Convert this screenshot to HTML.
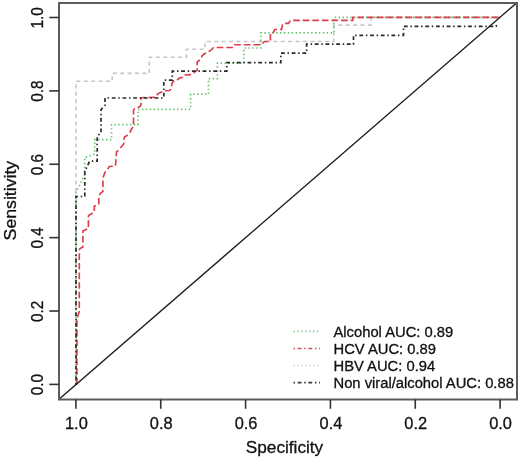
<!DOCTYPE html>
<html><head><meta charset="utf-8"><style>
html,body{margin:0;padding:0;background:#fff;}
svg{display:block;}
</style></head><body>
<svg width="520" height="459" viewBox="0 0 520 459">
<rect width="520" height="459" fill="#fff"/>
<polyline points="76,384.4 76,81.3 112.2,81.3 112.2,73.4 149.3,73.4 149.3,57.3 186.5,57.3 186.5,49.2 205,49.2 205,41.5 333.8,41.5 333.8,25.1 371,25.1 371,17.4 500,17.4" fill="none" stroke="#c6c6c6" stroke-width="1.6" stroke-dasharray="4 3.4" stroke-linecap="butt" stroke-linejoin="miter"/>
<polyline points="76,384.4 76,193 78,188 80,185 82,180 84.7,175 84.7,157.5 94.7,154 94.7,139.7 111.5,139.7 111.5,124.6 137.9,124.6 137.9,109.3 190.6,109.3 190.6,94.2 208.5,94.2 208.5,78.6 217.4,78.6 217.4,63.2 243.8,63.2 243.8,48 260.8,48 260.8,32.8 333.8,32.8 333.8,17.4 500,17.4" fill="none" stroke="#66c46c" stroke-width="1.7" stroke-dasharray="1.4 2.5" stroke-linecap="butt" stroke-linejoin="miter"/>
<polyline points="76.9,384.4 76.9,320 78,315.5 79.3,311.5 79.3,250 80,248.6 82.9,247 82.9,231 85.8,229.6 88.4,228.5 88.4,216 89,215.3 92.3,213.3 94.3,212 94.3,206 97.5,205.5 98.8,204 98.8,196 100.2,193.6 102.9,191.4 102.9,178 104,175 105.1,172.3 107.3,169.6 109.4,166.5 115.5,166 116.5,152 118.1,150.5 121,147.3 123.7,144 123.7,140 124.5,137 127,135.5 129.6,133 131.6,129 133.5,126.4 133.5,110 135.5,108 139.4,107 141,105 141,97.7 156,97.2 157.5,94 160,92.8 164.5,90.8 169.5,90.5 171.7,88 171.7,84 173.5,81 176.5,80.5 179.5,78 182,77.5 183.5,75 191.5,74.6 194,72.7 197.2,70 197.2,62 201,59 202,56 204.4,53.8 207.3,52.3 210.7,50.4 212.6,48.5 213.5,47.5 233,47.5 234.5,44.7 261,44.7 264.5,41.5 270.4,41.5 270.4,33 273.5,32.3 274.5,29.5 281.5,29.5 282.5,24.5 284,23.3 288.5,23.3 290.5,20.3 352.8,20.3 352.8,17.4 499,17.4" fill="none" stroke="#dc3c4c" stroke-width="1.65" stroke-dasharray="6.6 3" stroke-linecap="butt" stroke-linejoin="miter"/>
<polyline points="76,384.4 76,196.5 84.8,196.5 84.8,171 87,167 89.5,161.2 97.2,161.2 97.2,136 99,134.5 101,133.5 101,109.5 103,107.5 105,105.5 105,98 163.8,98 163.8,80.2 172.3,80.2 172.3,71.1 226.8,71.1 226.8,62.6 280.8,62.6 280.8,53.2 306.6,53.2 306.6,44.2 353.5,44.2 353.5,35.3 403.5,35.3 403.5,26.3 496,26.3 497.5,23.5" fill="none" stroke="#2a2a2a" stroke-width="1.7" stroke-dasharray="1.5 2.7 3.8 2.7" stroke-linecap="butt" stroke-linejoin="miter"/>
<line x1="59" y1="399.2" x2="517" y2="2.6" stroke="#1e1e1e" stroke-width="1.45"/>
<path d="M59,2.9 H517 V399.4 H59 Z" fill="none" stroke="#5c5c5c" stroke-width="2"/>
<line x1="49.3" y1="384.40" x2="59" y2="384.40" stroke="#333" stroke-width="1.6"/>
<line x1="500.10" y1="399.4" x2="500.10" y2="408.8" stroke="#333" stroke-width="1.6"/>
<line x1="49.3" y1="311.02" x2="59" y2="311.02" stroke="#333" stroke-width="1.6"/>
<line x1="415.26" y1="399.4" x2="415.26" y2="408.8" stroke="#333" stroke-width="1.6"/>
<line x1="49.3" y1="237.64" x2="59" y2="237.64" stroke="#333" stroke-width="1.6"/>
<line x1="330.42" y1="399.4" x2="330.42" y2="408.8" stroke="#333" stroke-width="1.6"/>
<line x1="49.3" y1="164.26" x2="59" y2="164.26" stroke="#333" stroke-width="1.6"/>
<line x1="245.58" y1="399.4" x2="245.58" y2="408.8" stroke="#333" stroke-width="1.6"/>
<line x1="49.3" y1="90.88" x2="59" y2="90.88" stroke="#333" stroke-width="1.6"/>
<line x1="160.74" y1="399.4" x2="160.74" y2="408.8" stroke="#333" stroke-width="1.6"/>
<line x1="49.3" y1="17.50" x2="59" y2="17.50" stroke="#333" stroke-width="1.6"/>
<line x1="75.90" y1="399.4" x2="75.90" y2="408.8" stroke="#333" stroke-width="1.6"/>
<text x="500.60" y="428.7" font-family="'Liberation Sans', Arial, Helvetica, sans-serif" stroke="#111" stroke-width="0.3" font-size="16.4" text-anchor="middle" fill="#111">0.0</text>
<text transform="translate(42.6,384.70) rotate(-90) scale(1,1.12)" x="0" y="0" font-family="'Liberation Sans', Arial, Helvetica, sans-serif" stroke="#111" stroke-width="0.3" font-size="15.3" text-anchor="middle" fill="#111">0.0</text>
<text x="415.76" y="428.7" font-family="'Liberation Sans', Arial, Helvetica, sans-serif" stroke="#111" stroke-width="0.3" font-size="16.4" text-anchor="middle" fill="#111">0.2</text>
<text transform="translate(42.6,311.32) rotate(-90) scale(1,1.12)" x="0" y="0" font-family="'Liberation Sans', Arial, Helvetica, sans-serif" stroke="#111" stroke-width="0.3" font-size="15.3" text-anchor="middle" fill="#111">0.2</text>
<text x="330.92" y="428.7" font-family="'Liberation Sans', Arial, Helvetica, sans-serif" stroke="#111" stroke-width="0.3" font-size="16.4" text-anchor="middle" fill="#111">0.4</text>
<text transform="translate(42.6,237.94) rotate(-90) scale(1,1.12)" x="0" y="0" font-family="'Liberation Sans', Arial, Helvetica, sans-serif" stroke="#111" stroke-width="0.3" font-size="15.3" text-anchor="middle" fill="#111">0.4</text>
<text x="246.08" y="428.7" font-family="'Liberation Sans', Arial, Helvetica, sans-serif" stroke="#111" stroke-width="0.3" font-size="16.4" text-anchor="middle" fill="#111">0.6</text>
<text transform="translate(42.6,164.56) rotate(-90) scale(1,1.12)" x="0" y="0" font-family="'Liberation Sans', Arial, Helvetica, sans-serif" stroke="#111" stroke-width="0.3" font-size="15.3" text-anchor="middle" fill="#111">0.6</text>
<text x="161.24" y="428.7" font-family="'Liberation Sans', Arial, Helvetica, sans-serif" stroke="#111" stroke-width="0.3" font-size="16.4" text-anchor="middle" fill="#111">0.8</text>
<text transform="translate(42.6,91.18) rotate(-90) scale(1,1.12)" x="0" y="0" font-family="'Liberation Sans', Arial, Helvetica, sans-serif" stroke="#111" stroke-width="0.3" font-size="15.3" text-anchor="middle" fill="#111">0.8</text>
<text x="76.40" y="428.7" font-family="'Liberation Sans', Arial, Helvetica, sans-serif" stroke="#111" stroke-width="0.3" font-size="16.4" text-anchor="middle" fill="#111">1.0</text>
<text transform="translate(42.6,17.80) rotate(-90) scale(1,1.12)" x="0" y="0" font-family="'Liberation Sans', Arial, Helvetica, sans-serif" stroke="#111" stroke-width="0.3" font-size="15.3" text-anchor="middle" fill="#111">1.0</text>
<text x="284.5" y="453.3" font-family="'Liberation Sans', Arial, Helvetica, sans-serif" stroke="#111" stroke-width="0.3" font-size="17.2" text-anchor="middle" fill="#111">Specificity</text>
<text transform="translate(15.6,200.6) rotate(-90) scale(1.035,1)" x="0" y="0" font-family="'Liberation Sans', Arial, Helvetica, sans-serif" stroke="#111" stroke-width="0.3" font-size="17.1" text-anchor="middle" fill="#111">Sensitivity</text>
<line x1="293.5" y1="331.3" x2="320" y2="331.3" stroke="#88c890" stroke-width="1.7" stroke-dasharray="1.4 2.5"/>
<text x="333.5" y="336.6" font-family="'Liberation Sans', Arial, Helvetica, sans-serif" stroke="#111" stroke-width="0.3" font-size="14.75" fill="#111">Alcohol AUC: 0.89</text>
<line x1="293.5" y1="348.5" x2="320" y2="348.5" stroke="#d65060" stroke-width="1.6" stroke-dasharray="1.5 2.7 3.8 2.7"/>
<text x="333.5" y="353.6" font-family="'Liberation Sans', Arial, Helvetica, sans-serif" stroke="#111" stroke-width="0.3" font-size="14.75" fill="#111">HCV AUC: 0.89</text>
<line x1="293.5" y1="365.5" x2="320" y2="365.5" stroke="#cdcdcd" stroke-width="1.7" stroke-dasharray="1.4 2.5"/>
<text x="333.5" y="370.7" font-family="'Liberation Sans', Arial, Helvetica, sans-serif" stroke="#111" stroke-width="0.3" font-size="14.75" fill="#111">HBV AUC: 0.94</text>
<line x1="293.5" y1="382.6" x2="320" y2="382.6" stroke="#3a3a3a" stroke-width="1.6" stroke-dasharray="1.5 2.7 3.8 2.7"/>
<text x="333.5" y="387.7" font-family="'Liberation Sans', Arial, Helvetica, sans-serif" stroke="#111" stroke-width="0.3" font-size="14.75" fill="#111">Non viral/alcohol AUC: 0.88</text>
</svg>
</body></html>
